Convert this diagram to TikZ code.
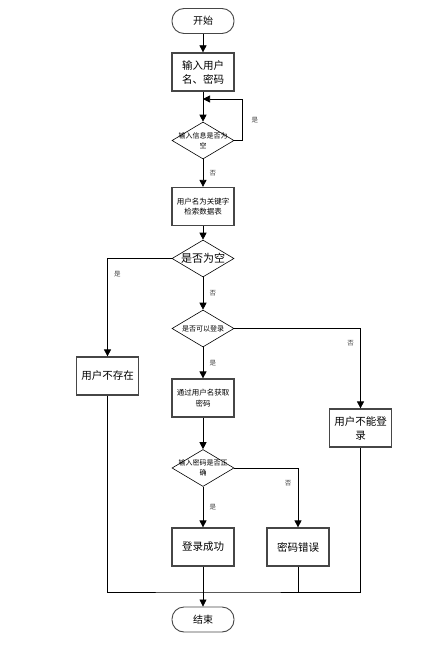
\documentclass[tikz,border=0pt]{standalone}
\usepackage{fontspec}
\setmainfont{Noto Sans CJK SC}
\usetikzlibrary{shapes.geometric, arrows.meta, positioning, calc}
\definecolor{flowBorder}{RGB}{70, 70, 70}

\begin{document}
\begin{tikzpicture}[x=1pt, y=-1pt,
            term/.style={rectangle, rounded corners=12pt, draw=flowBorder, line width=0.9pt,
                         minimum width=62pt, minimum height=25pt, font=\fontsize{10}{12}\selectfont},
            proc/.style={rectangle, draw=flowBorder, line width=1.2pt, minimum width=62pt,
                         minimum height=38pt, align=center, inner sep=1pt},
            decide/.style={diamond, draw=black, line width=0.6pt, minimum width=62pt,
                           minimum height=37pt, inner sep=0pt},
            dtext/.style={align=center, inner sep=0pt},
            big/.style={font=\fontsize{10.5}{14}\selectfont},
            mid/.style={font=\fontsize{7.5}{10.5}\selectfont},
            small/.style={font=\fontsize{7}{9.5}\selectfont},
            lbl/.style={font=\fontsize{6.5}{7}\selectfont, text=black!75},
            arrow/.style={-{Triangle[length=7pt, width=7pt]}, line width=0.7pt},
            link/.style={line width=0.7pt}
        ]
            \useasboundingbox (0,0) rectangle (428,655);

            \node[term] (start) at (203,21) {开始};
            \node[proc, big] (input) at (203,72) {输入用户\\名、密码};
            \node[decide, label={[dtext, small]center:输入信息是否为\\空}] (isempty) at (203,140.5) {};
            \node[proc, mid] (search) at (203,206.5) {用户名为关键字\\检索数据表};
            \node[decide, label={[dtext, font=\fontsize{11}{12}\selectfont]center:是否为空}] (found) at (203,258.5) {};
            \node[decide, label={[dtext, small]center:是否可以登录}] (canlogin) at (203,328.5) {};
            \node[proc, big] (nouser) at (107.5,376) {用户不存在};
            \node[proc, mid] (getpwd) at (203,398) {通过用户名获取\\密码};
            \node[proc, big] (nologin) at (360.5,428) {用户不能登\\录};
            \node[decide, label={[dtext, small]center:输入密码是否正\\确}] (pwdok) at (203,468) {};
            \node[proc, big] (success) at (203,547) {登录成功};
            \node[proc, big] (pwderr) at (298,547) {密码错误};
            \node[term] (finish) at (203,619.5) {结束};

            \coordinate (loop) at (242,99);
            \coordinate (back) at (203,99);
            \coordinate (join) at (203,592);

            \draw[arrow] (start) -- (input);
            \draw[arrow] (input) -- (isempty);
            \draw[arrow] (isempty.east) -| node[lbl, pos=0.75, right=6pt] {是} (loop) -- (back);
            \draw[arrow] (isempty) -- node[lbl, right=3pt] {否} (search);
            \draw[arrow] (search) -- (found);
            \draw[arrow] (found.west) -| node[lbl, pos=0.58, right=3pt] {是} (nouser.north);
            \draw[arrow] (found) -- node[lbl, right=3pt] {否} (canlogin);
            \draw[arrow] (canlogin.east) -| node[lbl, pos=0.59, left=3pt] {否} (nologin.north);
            \draw[arrow] (canlogin) -- node[lbl, right=3pt] {是} (getpwd);
            \draw[arrow] (getpwd) -- (pwdok);
            \draw[arrow] (pwdok) -- node[lbl, right=3pt] {是} (success);
            \draw[arrow] (pwdok.east) -| node[lbl, pos=0.63, left=3pt] {否} (pwderr.north);

            % merge into end
            \draw[link] (nouser.south) |- (join) -| (nologin.south);
            \draw[link] (pwderr.south) -- (pwderr.south |- join);
            \draw[arrow] (success) -- (finish);
        \end{tikzpicture}
\end{document}
